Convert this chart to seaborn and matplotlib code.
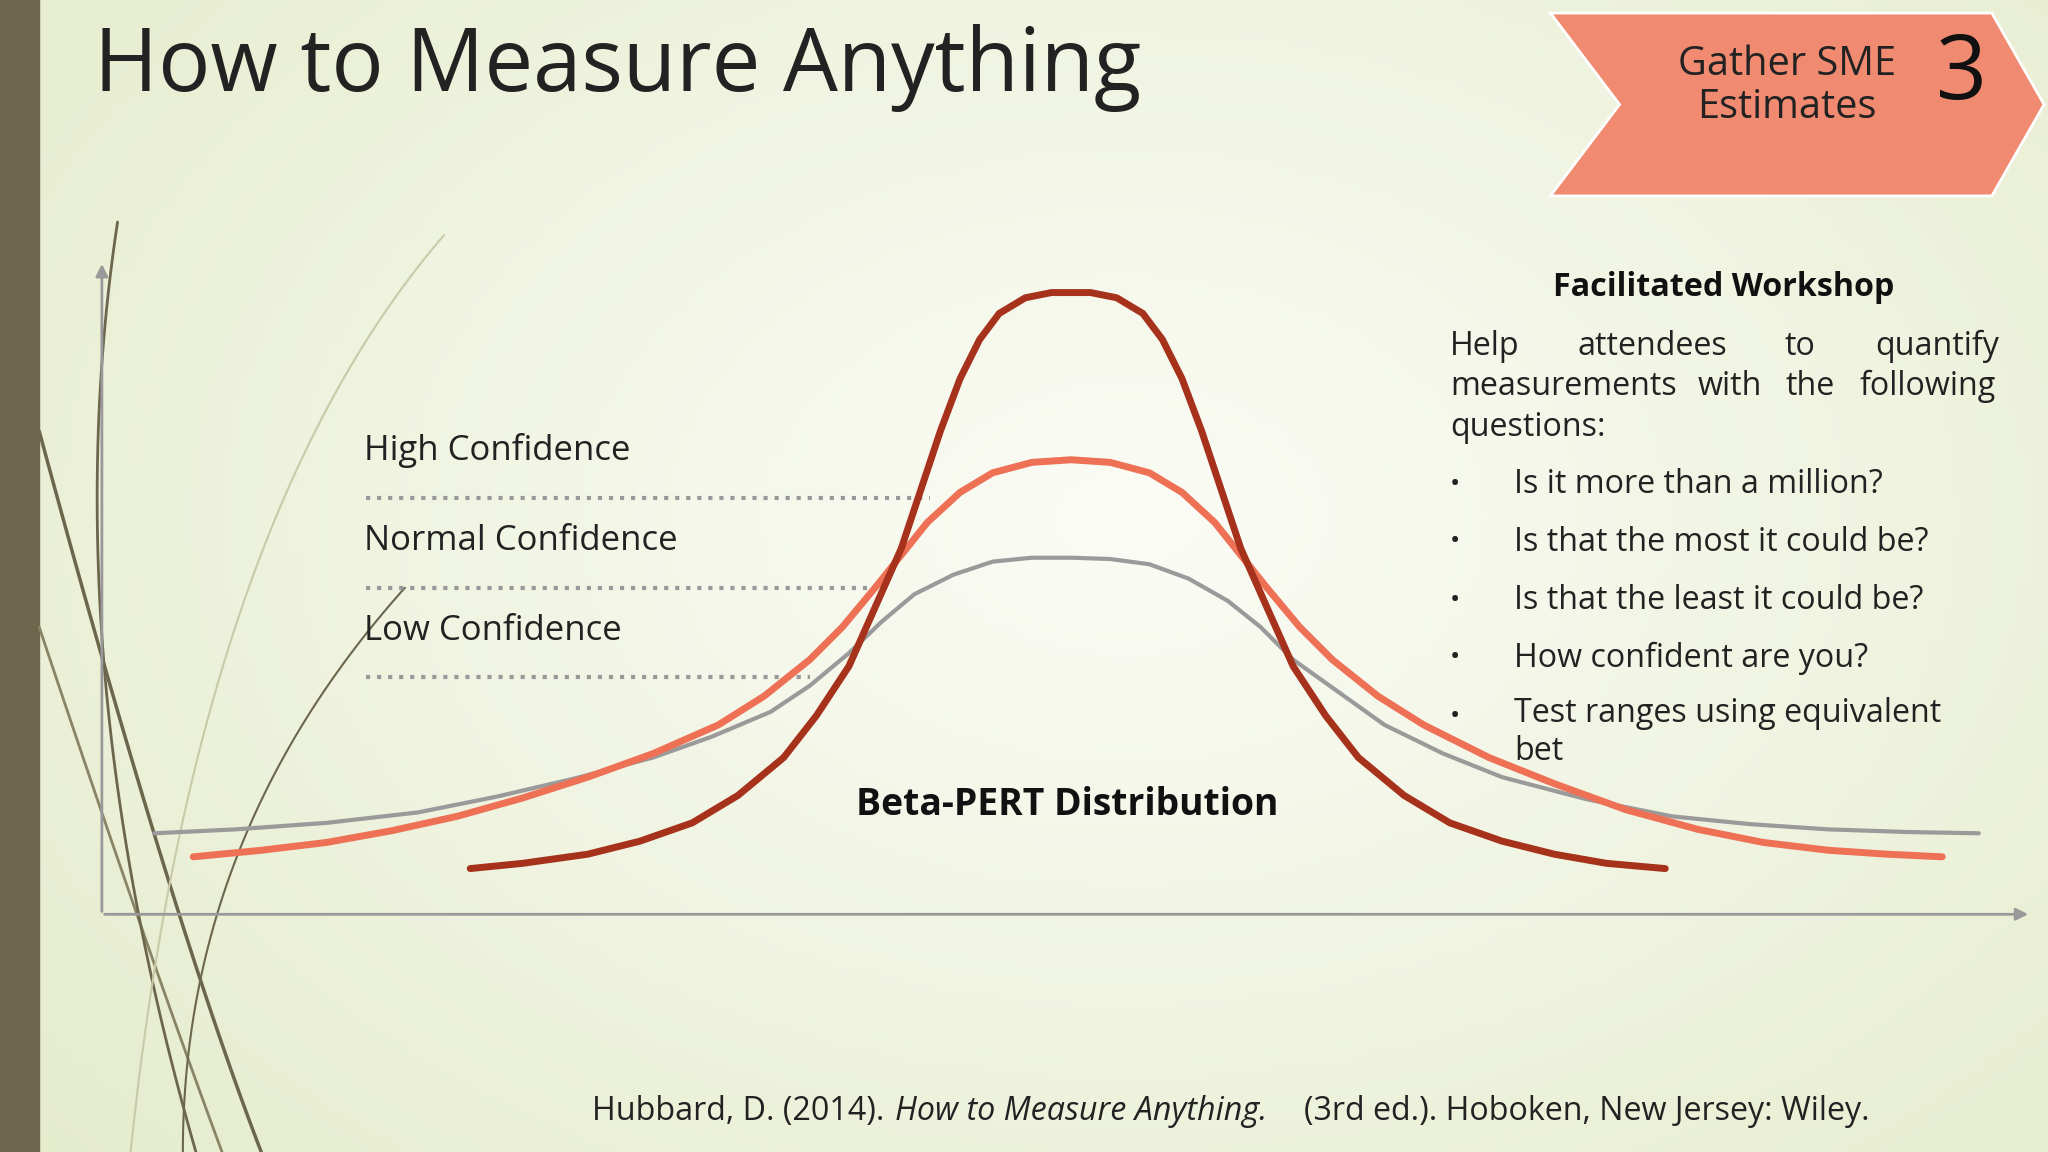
import numpy as np, pandas as pd
import matplotlib
matplotlib.use("Agg")
import matplotlib.pyplot as plt
import seaborn as sns
from matplotlib.patches import Polygon, FancyArrowPatch

sns.set_theme(style="white")
plt.rcParams['font.family'] = ['Open Sans', 'DejaVu Sans']

W, H = 1568, 882
def fs(px): return px * 2048 / W * 0.72 * 0.95

high_x = [360,400,450,490,530,565,600,625,650,670,690,705,720,735,750,765,785,805,820,835,855,875,890,905,920,935,950,970,990,1015,1040,1075,1110,1150,1190,1230,1275]
high_y = [665,661,654,644,630,609,580,548,510,465,420,375,330,290,260,240,228,224,224,224,228,240,260,290,330,375,420,465,510,548,580,609,630,644,654,661,665]
norm_x = [148,200,250,300,350,400,450,500,550,585,620,645,670,690,710,735,760,790,820,850,880,905,930,950,970,995,1020,1055,1090,1140,1190,1245,1300,1350,1400,1445,1487]
norm_y = [656,651,645,636,625,611,595,577,555,533,505,480,450,425,400,377,362,354,352,354,362,377,400,425,450,480,505,533,555,580,600,620,635,645,651,654,656]
low_x = [118,180,250,320,380,440,500,545,590,620,650,675,700,730,760,790,820,850,880,910,940,965,990,1025,1060,1105,1150,1215,1280,1340,1400,1460,1515]
low_y = [638,635,630,622,610,596,580,564,545,525,500,476,455,440,430,427,427,428,432,443,460,480,505,530,555,577,595,612,625,631,635,637,638]

conf_labels = ["High Confidence", "Normal Confidence", "Low Confidence"]
conf_label_y = [345, 414, 483]
conf_line_y = [381, 450, 518]
conf_line_end = [712, 670, 620]

questions = ["Is it more than a million?", "Is that the most it could be?",
             "Is that the least it could be?", "How confident are you?",
             "Test ranges using equivalent\nbet"]
question_y = [371, 415, 460, 504, 549]

fig = plt.figure(figsize=(20.48, 11.52), dpi=100)
bg = fig.add_axes([0, 0, 1, 1]); bg.set_axis_off()
yy, xx = np.mgrid[0:1:200j, 0:1:200j]
r = np.sqrt(((xx-0.55)*1.2)**2 + (yy-0.45)**2)
bg.imshow(r, cmap=matplotlib.colors.LinearSegmentedColormap.from_list("g", ["#fbfcf6", "#e4ebca"]),
          extent=[0, 1, 0, 1], aspect='auto', vmin=0, vmax=0.9)
bg.set_xlim(0, 1); bg.set_ylim(0, 1)

ax = fig.add_axes([0, 0, 1, 1]); ax.set_axis_off()
ax.patch.set_alpha(0)

ax.add_patch(plt.Rectangle((0, 0), 30, H, color="#6c664c"))
t = np.linspace(0, 1, 60)
for (p0, p1, p2, c, lw) in [((30,330),(130,700),(200,882),"#6c664c",2.5),
                            ((30,480),(110,720),(170,882),"#8a8466",2),
                            ((90,170),(40,500),(150,882),"#6c664c",2),
                            ((340,180),(150,400),(100,882),"#c8caa8",1.5),
                            ((310,450),(140,640),(140,882),"#6c664c",1.5)]:
    bx = (1-t)**2*p0[0] + 2*(1-t)*t*p1[0] + t**2*p2[0]
    by = (1-t)**2*p0[1] + 2*(1-t)*t*p1[1] + t**2*p2[1]
    ax.plot(bx, by, color=c, lw=lw, zorder=1)

ax.add_patch(FancyArrowPatch((78, 700), (78, 200), arrowstyle='-|>', mutation_scale=18, color="#999999", lw=2))
ax.add_patch(FancyArrowPatch((78, 700), (1555, 700), arrowstyle='-|>', mutation_scale=18, color="#999999", lw=2))

for lab, ly, cy, ce in zip(conf_labels, conf_label_y, conf_line_y, conf_line_end):
    ax.text(279, ly, lab, fontsize=fs(28), color="#222222", va='center')
    ax.plot([280, ce], [cy, cy], ls=':', color="#999999", lw=3)

df = pd.concat([pd.DataFrame({"x": low_x, "y": low_y, "s": "low"}),
                pd.DataFrame({"x": norm_x, "y": norm_y, "s": "norm"}),
                pd.DataFrame({"x": high_x, "y": high_y, "s": "high"})])
sns.lineplot(data=df, x="x", y="y", hue="s", sort=False, estimator=None, ax=ax, legend=False,
             palette={"low": "#9a9a9a", "norm": "#ee7055", "high": "#a6321c"},
             size="s", sizes={"low": 3, "norm": 5, "high": 5})
for l in ax.get_lines()[-3:]:
    l.set_solid_joinstyle('round'); l.set_solid_capstyle('round')
ax.set_xlim(0, W); ax.set_ylim(H, 0); ax.set_axis_off()

ax.text(817, 616, "Beta-PERT Distribution", fontsize=fs(30), ha='center', va='center', color="#111111", weight='bold')
ax.text(72, 52, "How to Measure Anything", fontsize=fs(70), va='center', color="#222222")

ax.add_patch(Polygon([(1187,10),(1525,10),(1565,80),(1525,150),(1187,150),(1240,80)],
                     closed=True, facecolor="#f08a70", edgecolor="white", lw=2))
ax.text(1368, 66, "Gather SME\nEstimates", fontsize=fs(32), ha='center', va='center', color="#222222", linespacing=1.1)
ax.text(1502, 58, "3", fontsize=fs(72), ha='center', va='center', color="#111111")

ax.text(1320, 220, "Facilitated Workshop", fontsize=fs(26), ha='center', va='center', color="#111111", weight='bold')
for line, y in [([("Help",1110),("attendees",1208),("to",1366),("quantify",1436)], 265),
                ([("measurements",1110),("with",1300),("the",1367),("following",1424)], 296)]:
    for w, x in line:
        ax.text(x, y, w, fontsize=fs(26), va='center', color="#222222")
ax.text(1110, 327, "questions:", fontsize=fs(26), va='center', color="#222222")
for q, y in zip(questions, question_y):
    ax.text(1110, y, "•", fontsize=fs(22), va='center', color="#222222")
    ax.text(1159, y - (15 if "\n" in q else 0), q, fontsize=fs(26), va='top' if "\n" in q else 'center',
            color="#222222", linespacing=1.2)

ax.text(453, 851, "Hubbard, D. (2014).", fontsize=fs(26), va='center', color="#222222")
ax.text(685, 851, "How to Measure Anything.", fontsize=fs(26), va='center', color="#222222", style='italic')
ax.text(998, 851, "(3rd ed.). Hoboken, New Jersey: Wiley.", fontsize=fs(26), va='center', color="#222222")

fig.savefig("out.png", dpi=100)
